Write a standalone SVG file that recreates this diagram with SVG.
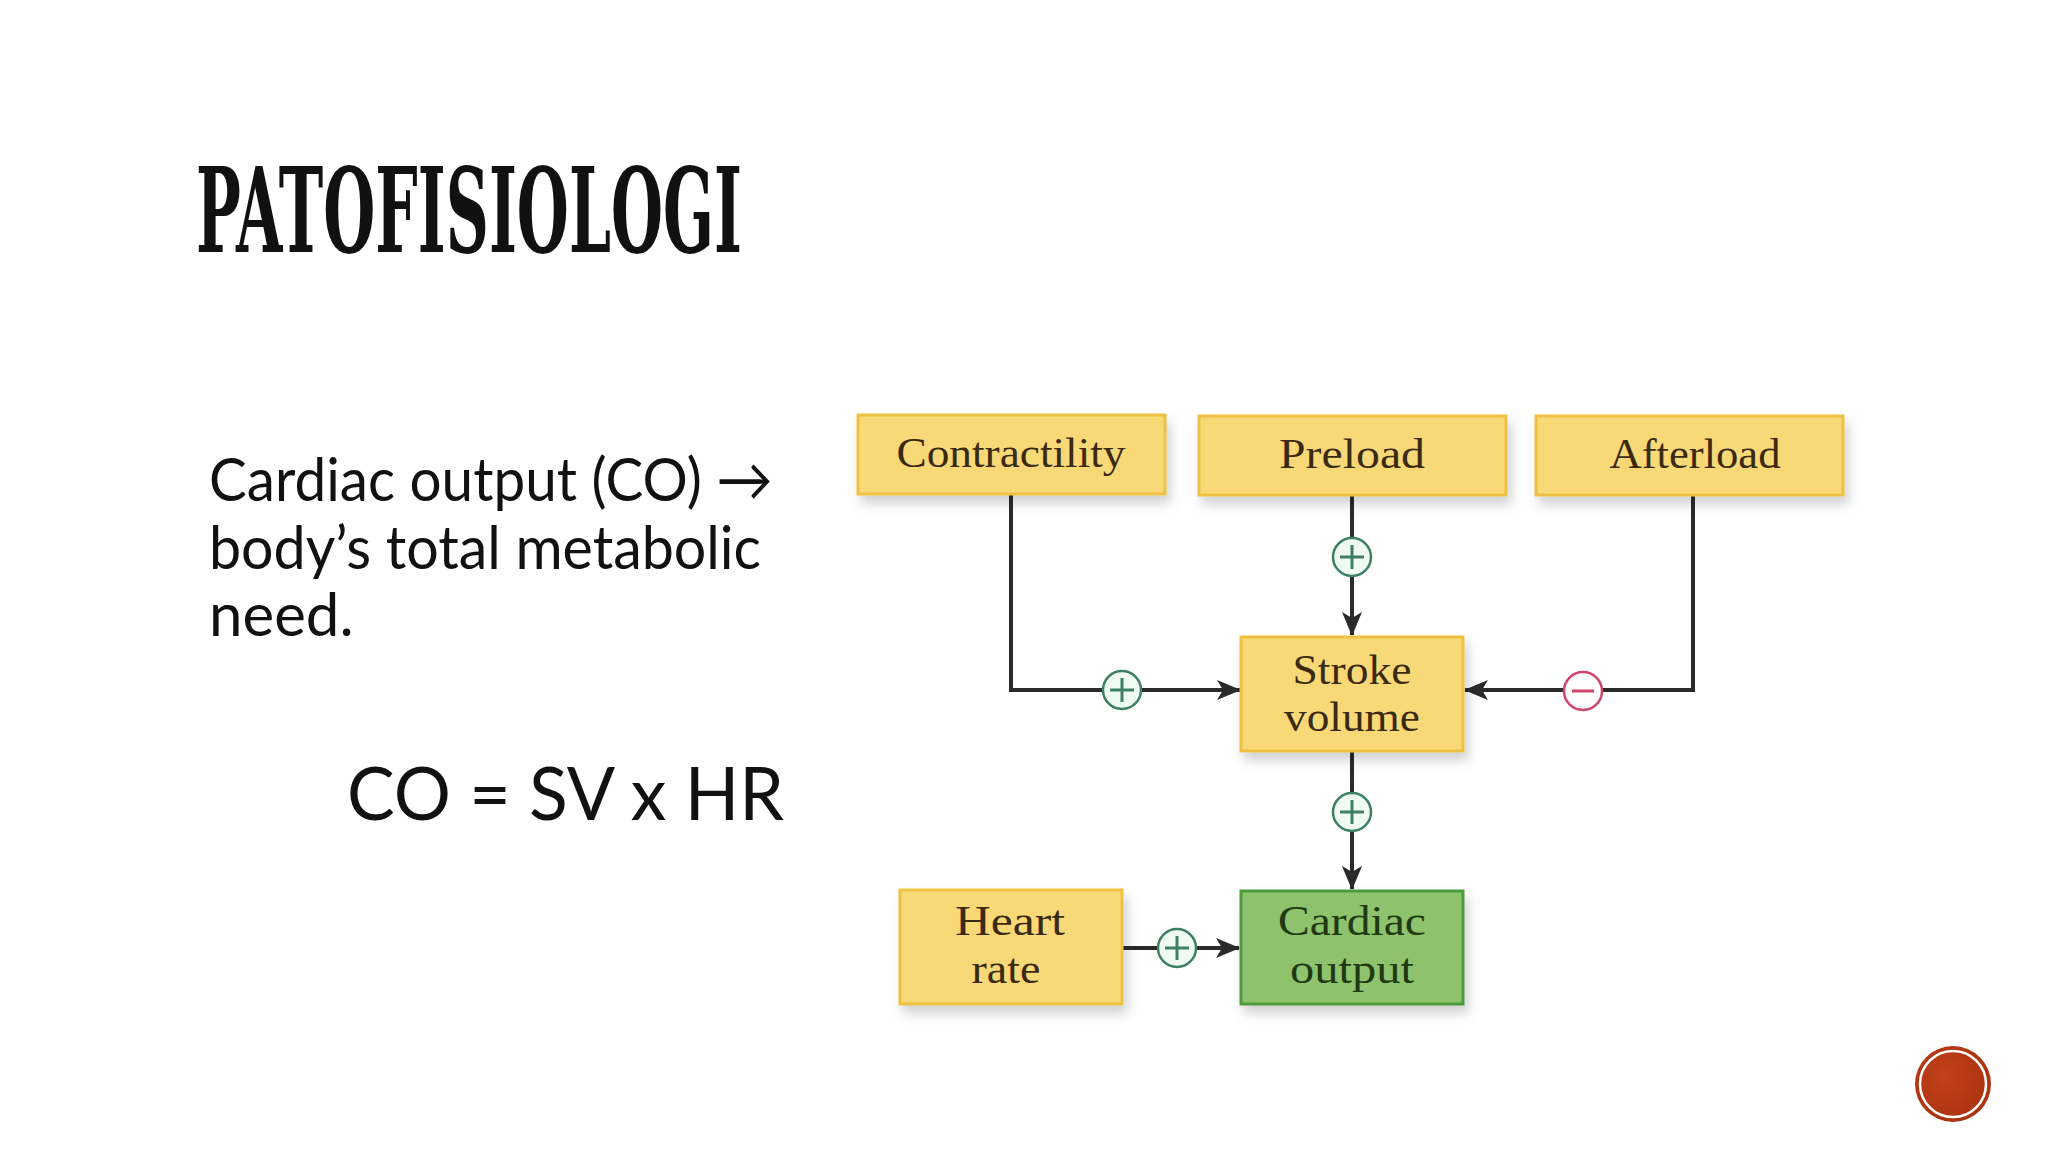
<svg xmlns="http://www.w3.org/2000/svg" width="2048" height="1152" viewBox="0 0 2048 1152">
  <defs>
    <filter id="shadow" x="-10%" y="-20%" width="130%" height="150%">
      <feDropShadow dx="4" dy="8" stdDeviation="6" flood-color="#000" flood-opacity="0.18"/>
    </filter>
    <marker id="arrow" viewBox="0 0 24 20" refX="23" refY="10" markerWidth="24" markerHeight="20" markerUnits="userSpaceOnUse" orient="auto">
      <path d="M0,0 L24,10 L0,20 L6,10 Z" fill="#2a2a2a"/>
    </marker>
    <radialGradient id="redball" cx="0.4" cy="0.4" r="0.7">
      <stop offset="0" stop-color="#c2421a"/>
      <stop offset="1" stop-color="#a8300d"/>
    </radialGradient>
  </defs>
  <style>
    .title { font-family: "DejaVu Serif Condensed", "DejaVu Serif", serif; font-weight: bold; fill: #111; }
    .body { font-family: Lato, "Open Sans", sans-serif; fill: #111; }
    .box { fill: #F9D977; stroke: #EEC143; stroke-width: 3; }
    .gbox { fill: #8EC26C; stroke: #4B9A3A; stroke-width: 3; }
    .lbl { font-family: "Liberation Serif", "Times New Roman", serif; font-size: 42px; fill: #3a2a10; text-anchor: middle; }
    .glbl { font-family: "Liberation Serif", "Times New Roman", serif; font-size: 42px; fill: #1f3a12; text-anchor: middle; }
    .conn { fill: none; stroke: #2a2a2a; stroke-width: 4; }
    .plus { fill: #f0faf5; stroke: #3f7f63; stroke-width: 2.5; }
    .plusmark { stroke: #3f7f63; stroke-width: 3; fill: none; }
    .minus { fill: #fff; stroke: #d0466a; stroke-width: 2.5; }
    .minusmark { stroke: #d0466a; stroke-width: 3; fill: none; }
  </style>
  <rect width="2048" height="1152" fill="#ffffff"/>

  <text class="title" x="196" y="252" font-size="118" textLength="546" lengthAdjust="spacingAndGlyphs">PATOFISIOLOGI</text>

  <text class="body" font-size="60" x="209" y="501" textLength="564" lengthAdjust="spacingAndGlyphs">Cardiac output (CO) →</text>
  <text class="body" font-size="60" x="209" y="569" textLength="552" lengthAdjust="spacingAndGlyphs">body’s total metabolic</text>
  <text class="body" font-size="60" x="209" y="636">need.</text>

  <text class="body" font-size="74" x="347" y="820" textLength="437" lengthAdjust="spacingAndGlyphs">CO = SV x HR</text>

  <g id="connectors">
    <path class="conn" d="M1011,494 V690 H1240" marker-end="url(#arrow)"/>
    <path class="conn" d="M1352,495 V635" marker-end="url(#arrow)"/>
    <path class="conn" d="M1693,496 V690 H1465" marker-end="url(#arrow)"/>
    <path class="conn" d="M1352,751 V889" marker-end="url(#arrow)"/>
    <path class="conn" d="M1122,948 H1239" marker-end="url(#arrow)"/>

    <g id="sign-contractility">
      <circle class="plus" cx="1122" cy="690" r="19"/>
      <path class="plusmark" d="M1110,690 H1134 M1122,678 V702"/>
    </g>
    <g id="sign-preload">
      <circle class="plus" cx="1352" cy="557" r="19"/>
      <path class="plusmark" d="M1340,557 H1364 M1352,545 V569"/>
    </g>
    <g id="sign-afterload">
      <circle class="minus" cx="1583" cy="691" r="19"/>
      <path class="minusmark" d="M1572,691 H1594"/>
    </g>
    <g id="sign-sv">
      <circle class="plus" cx="1352" cy="812" r="19"/>
      <path class="plusmark" d="M1340,812 H1364 M1352,800 V824"/>
    </g>
    <g id="sign-hr">
      <circle class="plus" cx="1177" cy="948" r="19"/>
      <path class="plusmark" d="M1165,948 H1189 M1177,936 V960"/>
    </g>
  </g>

  <g id="contractility">
    <rect class="box" x="858" y="415" width="307" height="79" filter="url(#shadow)"/>
    <text class="lbl" x="1011" y="467" textLength="229" lengthAdjust="spacingAndGlyphs">Contractility</text>
  </g>
  <g id="preload">
    <rect class="box" x="1199" y="416" width="307" height="79" filter="url(#shadow)"/>
    <text class="lbl" x="1352" y="468" textLength="146" lengthAdjust="spacingAndGlyphs">Preload</text>
  </g>
  <g id="afterload">
    <rect class="box" x="1536" y="416" width="307" height="79" filter="url(#shadow)"/>
    <text class="lbl" x="1695" y="468" textLength="171" lengthAdjust="spacingAndGlyphs">Afterload</text>
  </g>
  <g id="stroke-volume">
    <rect class="box" x="1241" y="637" width="222" height="114" filter="url(#shadow)"/>
    <text class="lbl" x="1352" y="684" textLength="119" lengthAdjust="spacingAndGlyphs">Stroke</text>
    <text class="lbl" x="1352" y="731" textLength="136" lengthAdjust="spacingAndGlyphs">volume</text>
  </g>
  <g id="heart-rate">
    <rect class="box" x="900" y="890" width="222" height="114" filter="url(#shadow)"/>
    <text class="lbl" x="1010" y="935" textLength="110" lengthAdjust="spacingAndGlyphs">Heart</text>
    <text class="lbl" x="1006" y="983" textLength="69" lengthAdjust="spacingAndGlyphs">rate</text>
  </g>
  <g id="cardiac-output">
    <rect class="gbox" x="1241" y="891" width="222" height="113" filter="url(#shadow)"/>
    <text class="glbl" x="1352" y="935" textLength="148" lengthAdjust="spacingAndGlyphs">Cardiac</text>
    <text class="glbl" x="1352" y="983" textLength="124" lengthAdjust="spacingAndGlyphs">output</text>
  </g>

  <g id="page-badge">
    <circle cx="1953" cy="1084" r="38" fill="url(#redball)"/>
    <circle cx="1953" cy="1084" r="33" fill="none" stroke="#fff" stroke-width="2.5"/>
  </g>
</svg>
